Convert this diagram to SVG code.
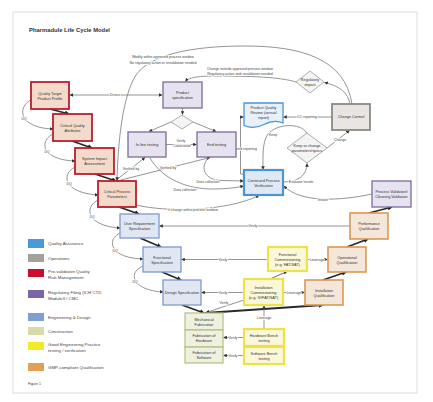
<svg xmlns="http://www.w3.org/2000/svg" width="433" height="402" viewBox="0 0 433 402">
<style>
text{font-family:"Liberation Sans",Arial,sans-serif;fill:#333}
.t{font-size:3.8px;text-anchor:middle}
.lbl{font-size:3.5px;text-anchor:middle;fill:#444;stroke:#fff;stroke-width:1.4px;paint-order:stroke;stroke-linejoin:round}
.leg{font-size:4.4px;fill:#444}
.c{fill:none;stroke:#7a7a7a;stroke-width:0.8}
.k{fill:none;stroke:#2a2a2a;stroke-width:1.8}
.red{fill:#f3dacb;stroke:#b81f2d;stroke-width:1.8}
.pur{fill:#e7e2ef;stroke:#7a6b9c;stroke-width:1.3}
.eng{fill:#e0e7f3;stroke:#7f9acb;stroke-width:1.3}
.qa{fill:#dfe9f6;stroke:#4a95d5;stroke-width:2.2}
.qa2{fill:#e8f0f9;stroke:#4a95d5;stroke-width:1.3}
.ops{fill:#e9e6e2;stroke:#8c8986;stroke-width:1.8}
.gep{fill:#fbf8da;stroke:#eee24a;stroke-width:2.2}
.con{fill:#eef0e0;stroke:#b6bd82;stroke-width:1.2}
.gmp{fill:#f4e6d9;stroke:#d99a55;stroke-width:1.6}
.dia{fill:#f4f4f4;stroke:#999;stroke-width:0.8}
</style>
<defs>
<marker id="a" viewBox="0 0 6 6" refX="5.5" refY="3" markerWidth="3.6" markerHeight="3.6" markerUnits="userSpaceOnUse" orient="auto"><path d="M0,0L6,3L0,6z" fill="#333"/></marker>
<marker id="as" viewBox="0 0 6 6" refX="0.5" refY="3" markerWidth="3.6" markerHeight="3.6" markerUnits="userSpaceOnUse" orient="auto"><path d="M6,0L0,3L6,6z" fill="#333"/></marker>
<marker id="ak" viewBox="0 0 6 6" refX="5" refY="3" markerWidth="5" markerHeight="5" markerUnits="userSpaceOnUse" orient="auto"><path d="M0,0L6,3L0,6z" fill="#222"/></marker>
</defs>
<rect x="13" y="12" width="404" height="381" fill="#fff" stroke="#d4d4d4" stroke-width="0.8"/>
<text x="29" y="32" font-size="6.2" font-weight="bold" fill="#222" textLength="81" lengthAdjust="spacingAndGlyphs">Pharmadule Life Cycle Model</text>

<g id="connectors">
<path class="k" d="M50,109L69,114" marker-end="url(#ak)"/>
<path class="k" d="M72,141L92,148" marker-end="url(#ak)"/>
<path class="k" d="M95,174L116,181" marker-end="url(#ak)"/>
<path class="k" d="M119,207L139,214" marker-end="url(#ak)"/>
<path class="k" d="M140,238L161,247" marker-end="url(#ak)"/>
<path class="k" d="M162,272L181,280" marker-end="url(#ak)"/>
<path class="k" d="M182,305L204,313" marker-end="url(#ak)"/>
<path class="k" d="M205,313L323,305" marker-end="url(#ak)"/>
<path class="k" d="M323,280L346,272" marker-end="url(#ak)"/>
<path class="k" d="M347,247L368,239" marker-end="url(#ak)"/>
<path class="k" d="M369,213L392,207" marker-end="url(#ak)"/>
<path class="c" d="M31,100C16,108 20,128 53,129" marker-end="url(#a)"/>
<path class="c" d="M53,134C38,142 43,160 75,161" marker-end="url(#a)"/>
<path class="c" d="M75,167C60,175 65,193 98,195" marker-end="url(#a)"/>
<path class="c" d="M98,200C83,208 88,226 120,228" marker-end="url(#a)"/>
<path class="c" d="M120,233C106,240 110,258 143,259" marker-end="url(#a)"/>
<path class="c" d="M143,266C128,272 131,290 163,292" marker-end="url(#a)"/>
<path class="c" d="M70,95L162,95" marker-start="url(#as)" marker-end="url(#a)"/>
<path class="c" d="M182.5,108L182.5,114.5" marker-end="url(#a)"/>
<path class="c" d="M171,122L149,131.5" marker-end="url(#a)"/>
<path class="c" d="M193,122L216,131.5" marker-end="url(#a)"/>
<path class="c" d="M166,144.5L196.5,144.5" marker-end="url(#a)"/>
<path class="c" d="M115,181L145,157.5" marker-end="url(#a)"/>
<path class="c" d="M117,181L210,157.5" marker-end="url(#a)"/>
<path class="c" d="M208,158C200,168 204,180 222,180.5L243.5,181" marker-end="url(#a)"/>
<path class="c" d="M150,158C160,175 180,188 210,189C225,189 235,188 243.5,186" marker-end="url(#a)"/>
<path class="c" d="M136,205C165,212 225,212 259,195.5" marker-end="url(#a)"/>
<path class="c" d="M244,174L240.5,174L240.5,117L243.5,117" marker-end="url(#a)"/>
<path class="c" d="M332,117L283.5,117" marker-end="url(#a)"/>
<path class="c" d="M307,133C300,122 276,124 268,134C262,142 263,158 263,169.5" marker-end="url(#a)"/>
<path class="c" d="M283.5,182C297,182 307,176 307,163.5" marker-end="url(#a)"/>
<path class="c" d="M327,148L349.5,130.5" marker-end="url(#a)"/>
<path class="c" d="M372,194C340,201 300,203 284,186" marker-end="url(#a)"/>
<path class="c" d="M350,104C348,93 340,86 324.5,82.5" marker-end="url(#a)"/>
<path class="c" d="M352,104C345,58 300,46 245,46C190,46 150,55 136,75C123,95 118,140 117,180.5" marker-end="url(#a)"/>
<path class="c" d="M296,82C280,77 250,76 215,76C196,76 188,78 185.5,81.5" marker-end="url(#a)"/>
<path class="c" d="M350,226L159.5,226" marker-end="url(#a)"/>
<path class="c" d="M268,259.5L181.5,259.5" marker-end="url(#a)"/>
<path class="c" d="M244,292.5L201.5,292.5" marker-end="url(#a)"/>
<path class="c" d="M244,300L206,312.5" marker-end="url(#a)"/>
<path class="c" d="M244,337.5L223.5,337.5" marker-end="url(#a)"/>
<path class="c" d="M244,355.5L223.5,355.5" marker-end="url(#a)"/>
<path class="c" d="M264,329L264,305.5" marker-end="url(#a)"/>
<path class="c" d="M283,292.5L304.5,292.5" marker-end="url(#a)"/>
<path class="c" d="M307,259.5L327.5,259.5" marker-end="url(#a)"/>
<path d="M270,279L287,271.5" fill="none" stroke="#444" stroke-width="0.8" marker-end="url(#a)"/>
<text class="lbl" x="24" y="119.5">DQ</text>
<text class="lbl" x="47" y="153">DQ</text>
<text class="lbl" x="69" y="185">DQ</text>
<text class="lbl" x="92" y="218">DQ</text>
<text class="lbl" x="115" y="252">DQ</text>
<text class="lbl" x="135" y="283">DQ</text>
<text class="lbl" x="115" y="96.2">Drives</text>
<text class="lbl" x="181" y="142">Verify</text>
<text class="lbl" x="182" y="146.5">Covariation</text>
<text class="lbl" x="131" y="170">Verified by</text>
<text class="lbl" x="168" y="169">Verified by</text>
<text class="lbl" x="208" y="182.5">Data collection</text>
<text class="lbl" x="185" y="190.5">Data collection</text>
<text class="lbl" x="193" y="211">if change within process window</text>
<text class="lbl" x="245" y="149.5">Trend reporting</text>
<text class="lbl" x="307" y="118.2">CC reporting</text>
<text class="lbl" x="273" y="136">Keep</text>
<text class="lbl" x="301" y="183">Evaluate trends</text>
<text class="lbl" x="340" y="141">Change</text>
<text class="lbl" x="323" y="201">Initiate</text>
<text class="lbl" x="163" y="58">Modify within approved process window</text>
<text class="lbl" x="163" y="63.5">No regulatory action or revalidation needed</text>
<text class="lbl" x="240" y="69.5">Change outside approved process window</text>
<text class="lbl" x="240" y="74.5">Regulatory action and revalidation needed</text>
<text class="lbl" x="253" y="227.2">Verify</text>
<text class="lbl" x="223" y="260.7">Verify</text>
<text class="lbl" x="223" y="293.7">Verify</text>
<text class="lbl" x="224" y="304">Verify</text>
<text class="lbl" x="233" y="338.7">Verify</text>
<text class="lbl" x="233" y="356.7">Verify</text>
<text class="lbl" x="264" y="318.5">Leverage</text>
<text class="lbl" x="294" y="293.7">Leverage</text>
<text class="lbl" x="317" y="260.7">Leverage</text>
</g>

<g id="qtpp"><rect class="red" x="31" y="82" width="38" height="27"/><text class="t" x="50" y="94.5">Quality Target</text><text class="t" x="50" y="99.5">Product Profile</text></g>
<g id="cqa"><rect class="red" x="53" y="114" width="39" height="27"/><text class="t" x="72.5" y="126.5">Critical Quality</text><text class="t" x="72.5" y="131.5">Attributes</text></g>
<g id="sia"><rect class="red" x="75" y="148" width="39" height="26"/><text class="t" x="94.5" y="160">System Impact</text><text class="t" x="94.5" y="165">Assessment</text></g>
<g id="cpp"><rect class="red" x="98" y="181" width="38" height="26"/><text class="t" x="117" y="193">Critical Process</text><text class="t" x="117" y="198">Parameters</text></g>
<g id="urs"><rect class="eng" x="120" y="214" width="39" height="24"/><text class="t" x="139.5" y="225">User Requirement</text><text class="t" x="139.5" y="230">Specification</text></g>
<g id="fs"><rect class="eng" x="143" y="247" width="38" height="25"/><text class="t" x="162" y="258.5">Functional</text><text class="t" x="162" y="263.5">Specification</text></g>
<g id="ds"><rect class="eng" x="163" y="280" width="38" height="25"/><text class="t" x="182" y="293.8">Design Specification</text></g>
<g id="fab-mech"><rect class="con" x="185" y="313" width="38" height="17"/><text class="t" x="204" y="320.5">Mechanical</text><text class="t" x="204" y="325.5">Fabrication</text></g>
<g id="fab-hw"><rect class="con" x="185" y="330" width="38" height="17"/><text class="t" x="204" y="337">Fabrication of</text><text class="t" x="204" y="342">Hardware</text></g>
<g id="fab-sw"><rect class="con" x="185" y="347" width="38" height="16"/><text class="t" x="204" y="353.5">Fabrication of</text><text class="t" x="204" y="358.5">Software</text></g>
<g id="hw-bench"><rect class="gep" x="244" y="329" width="40" height="17"/><text class="t" x="264" y="336.5">Hardware Bench</text><text class="t" x="264" y="341.5">testing</text></g>
<g id="sw-bench"><rect class="gep" x="244" y="347" width="40" height="17"/><text class="t" x="264" y="354.5">Software Bench</text><text class="t" x="264" y="359.5">testing</text></g>
<g id="ic"><rect class="gep" x="244" y="279" width="39" height="26"/><text class="t" x="263.5" y="288.5">Installation</text><text class="t" x="263.5" y="293.5">Commissioning</text><text class="t" x="263.5" y="298.5">(e.g. IV/FAT/SAT)</text></g>
<g id="fc"><rect class="gep" x="268" y="247" width="39" height="24"/><text class="t" x="287.5" y="255.5">Functional</text><text class="t" x="287.5" y="260.5">Commissioning</text><text class="t" x="287.5" y="265.5">(e.g. FAT/SAT)</text></g>
<g id="iq"><rect class="gmp" x="305" y="280" width="38" height="25"/><text class="t" x="324" y="291.5">Installation</text><text class="t" x="324" y="296.5">Qualification</text></g>
<g id="oq"><rect class="gmp" x="328" y="247" width="38" height="25"/><text class="t" x="347" y="258.5">Operational</text><text class="t" x="347" y="263.5">Qualification</text></g>
<g id="pq"><rect class="gmp" x="350" y="213" width="38" height="26"/><text class="t" x="369" y="225">Performance</text><text class="t" x="369" y="230">Qualification</text></g>
<g id="pv"><rect class="pur" x="372" y="181" width="39" height="26"/><text class="t" x="391.5" y="193">Process Validation/</text><text class="t" x="391.5" y="198">Cleaning Validation</text></g>
<g id="cpv"><rect class="qa" x="244" y="170" width="39" height="25"/><text class="t" x="263.5" y="181.5">Continued Process</text><text class="t" x="263.5" y="186.5">Verification</text></g>
<g id="cc"><rect class="ops" x="332" y="104" width="38" height="26"/><text class="t" x="351" y="118.3">Change Control</text></g>
<g id="pqr"><path class="qa2" d="M244,103H283V123C277,120 271,121 264,124.5C257,128 250,128 244,125.5Z"/><text class="t" x="263.5" y="108.5">Product Quality</text><text class="t" x="263.5" y="113.5">Review (annual</text><text class="t" x="263.5" y="118.5">report)</text></g>
<g id="reg-impact"><path class="dia" d="M310,71L324,82L310,93L296,82Z"/><text class="t" x="310" y="81">Regulatory</text><text class="t" x="310" y="86">impact</text></g>
<g id="keep-change"><path class="dia" d="M307,133L327,148L307,163L287,148Z"/><text class="t" x="307" y="147">Keep or change</text><text class="t" x="307" y="152">parameters/specs</text></g>
<g id="product-spec"><rect class="pur" x="163" y="82" width="39" height="26"/><text class="t" x="182.5" y="94">Product</text><text class="t" x="182.5" y="99">specification</text></g>
<g id="test-decision"><path class="dia" d="M182,115L193,122L182,129L171,122Z"/></g>
<g id="inline-testing"><rect class="pur" x="128" y="132" width="38" height="25"/><text class="t" x="147" y="145.8">In-line testing</text></g>
<g id="end-testing"><rect class="pur" x="197" y="132" width="39" height="25"/><text class="t" x="216.5" y="145.8">End testing</text></g>

<g id="legend">
<rect x="28" y="239" width="16" height="9" fill="#4a9ad8"/><text class="leg" x="48" y="245">Quality Assurance</text>
<rect x="28" y="254" width="16" height="8" fill="#a3a19e"/><text class="leg" x="48" y="259.7">Operations</text>
<rect x="28" y="269" width="16" height="8" fill="#c8102e"/><text class="leg" x="48" y="273">Pre-validation Quality</text><text class="leg" x="48" y="279">Risk Management</text>
<rect x="28" y="290" width="16" height="8" fill="#7b65a9"/><text class="leg" x="48" y="294">Regulatory Filing (ICH CTD</text><text class="leg" x="48" y="300">Module3 / CMC</text>
<rect x="28" y="313" width="16" height="8" fill="#7f9fd0"/><text class="leg" x="48" y="318.7">Engineering &amp; Design</text>
<rect x="28" y="327" width="16" height="8" fill="#d8daa8"/><text class="leg" x="48" y="332.7">Construction</text>
<rect x="28" y="342" width="16" height="8" fill="#f5ea2a"/><text class="leg" x="48" y="346">Good Engineering Practice</text><text class="leg" x="48" y="352">testing / verification</text>
<rect x="28" y="363" width="16" height="8" fill="#e0a055"/><text class="leg" x="48" y="368.7">GMP-compliant Qualification</text>
<text x="28" y="385" font-size="3.5" fill="#777">Figure 1</text>
</g>
</svg>
